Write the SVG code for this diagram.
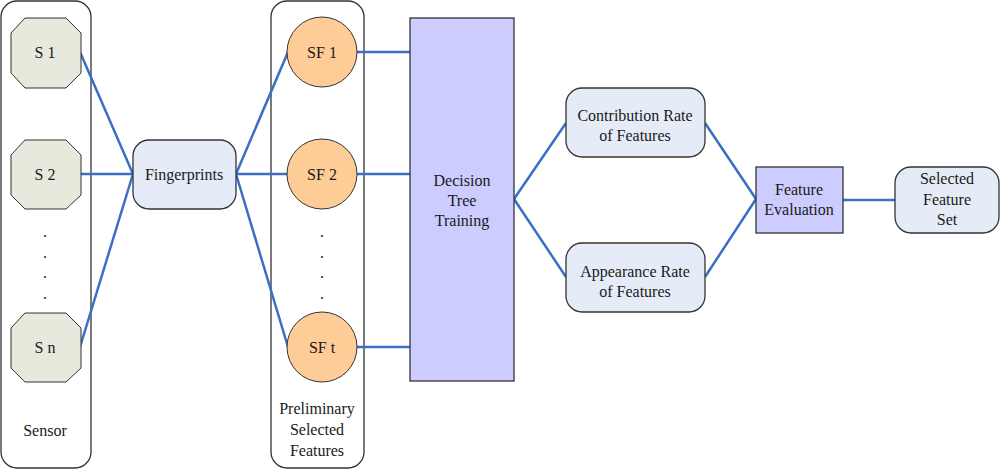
<svg xmlns="http://www.w3.org/2000/svg" width="1000" height="469" viewBox="0 0 1000 469">
<style>
text{font-family:"Liberation Serif",serif;font-size:16px;fill:#1a1a1a;text-anchor:middle}
.ct{fill:#fff;stroke:#333;stroke-width:1.3}
.oct{fill:#e8e9dd;stroke:#333;stroke-width:1}
.cir{fill:#fecc96;stroke:#333;stroke-width:1}
.rb{fill:#e5ecf7;stroke:#333;stroke-width:1.3}
.pb{fill:#ccccff;stroke:#333;stroke-width:1.3}
#connectors line{stroke:#3b6fc4;stroke-width:2.5}
</style>
<g id="sensor-group"><rect class="ct" x="1" y="1" width="90" height="467" rx="16"/><text x="45" y="436">Sensor</text>
<text x="45" y="237">.</text><text x="45" y="258">.</text><text x="45" y="278">.</text><text x="45" y="299">.</text></g>
<g id="psf-group"><rect class="ct" x="271" y="1" width="93" height="467" rx="16"/>
<text x="317" y="414">Preliminary</text><text x="317" y="435">Selected</text><text x="317" y="456">Features</text>
<text x="322" y="237">.</text><text x="322" y="258">.</text><text x="322" y="278">.</text><text x="322" y="299">.</text></g>
<g id="connectors">
<line x1="80" y1="52" x2="133" y2="174"/><line x1="80" y1="174" x2="133" y2="174"/><line x1="80" y1="347" x2="133" y2="174"/>
<line x1="236" y1="174" x2="288" y2="52"/><line x1="236" y1="174" x2="288" y2="174"/><line x1="236" y1="174" x2="288" y2="347"/>
<line x1="357" y1="52" x2="410" y2="52"/><line x1="357" y1="174" x2="410" y2="174"/><line x1="357" y1="347" x2="410" y2="347"/>
<line x1="514" y1="199" x2="566" y2="123"/><line x1="514" y1="199" x2="566" y2="277"/>
<line x1="705" y1="123" x2="756" y2="199"/><line x1="705" y1="277" x2="756" y2="199"/>
<line x1="843" y1="200" x2="895" y2="200"/>
</g>
<g id="s1"><polygon class="oct" points="25,18 66,18 81,33 81,73 66,88 25,88 11,73 11,33"/><text x="45" y="58">S 1</text></g>
<g id="s2"><polygon class="oct" points="25,140 66,140 81,155 81,195 66,209 25,209 11,195 11,155"/><text x="45" y="180">S 2</text></g>
<g id="sn"><polygon class="oct" points="25,313 66,313 81,328 81,368 66,382 25,382 11,368 11,328"/><text x="45" y="353">S n</text></g>
<g id="fingerprints"><rect class="rb" x="133" y="140" width="103" height="69" rx="16"/><text x="184" y="180">Fingerprints</text></g>
<g id="sf1"><circle class="cir" cx="322" cy="52" r="35"/><text x="322" y="58">SF 1</text></g>
<g id="sf2"><circle class="cir" cx="322" cy="174" r="35"/><text x="322" y="180">SF 2</text></g>
<g id="sft"><circle class="cir" cx="322" cy="347" r="35"/><text x="322" y="353">SF t</text></g>
<g id="decision"><rect class="pb" x="410" y="18" width="104" height="363"/><text x="462" y="186">Decision</text><text x="462" y="206">Tree</text><text x="462" y="226">Training</text></g>
<g id="contribution"><rect class="rb" x="566" y="88" width="139" height="69" rx="16"/><text x="635" y="121">Contribution Rate</text><text x="635" y="141">of Features</text></g>
<g id="appearance"><rect class="rb" x="566" y="243" width="139" height="69" rx="16"/><text x="635" y="277">Appearance Rate</text><text x="635" y="297">of Features</text></g>
<g id="evaluation"><rect class="pb" x="756" y="167" width="87" height="66"/><text x="799" y="195">Feature</text><text x="799" y="215">Evaluation</text></g>
<g id="selected"><rect class="rb" x="895" y="167" width="104" height="66" rx="16"/><text x="947" y="184">Selected</text><text x="947" y="205">Feature</text><text x="947" y="225">Set</text></g>
</svg>
